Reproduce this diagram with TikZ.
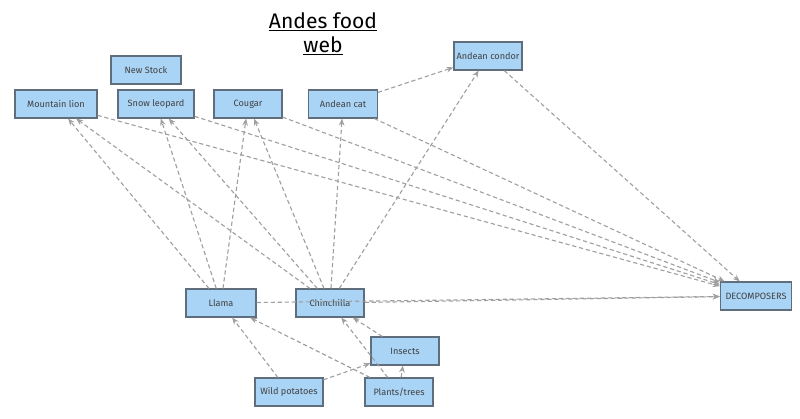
\documentclass[tikz,border=0pt]{standalone}
\usepackage{fontspec}
\setmainfont{Fira Sans}
\usetikzlibrary{arrows.meta,positioning}
\definecolor{boxfill}{RGB}{170,212,246}
\definecolor{boxline}{RGB}{95,110,125}
\definecolor{linkgray}{RGB}{160,160,160}
\tikzset{
  animal/.style={draw=boxline, thick, fill=boxfill, font=\fontsize{6.5}{8}\selectfont\color{black!75},
    minimum height=0.7cm, inner sep=1pt},
  eats/.style={->, >={Stealth[length=5pt,width=4pt]}, linkgray, thick, dash pattern=on 3pt off 2pt}
}
\begin{document}
\begin{tikzpicture}[x=0.025cm, y=-0.025cm]
\useasboundingbox (0,0) rectangle (800,419);

\node[font=\fontsize{15}{18}\selectfont, align=center] (title) at (323,34) {\underline{Andes food}\\[-1pt]\underline{web}};

\node[animal, minimum width=2.05cm] (ML) at (56,104) {Mountain lion};
\node[animal, minimum width=1.75cm] (NS) at (146,70) {New Stock};
\node[animal, minimum width=1.9cm] (SL) at (156,104) {Snow leopard};
\node[animal, minimum width=1.7cm] (CG) at (248,104) {Cougar};
\node[animal, minimum width=1.72cm] (AC) at (343,104) {Andean cat};
\node[animal, minimum width=1.7cm] (CD) at (488,56) {Andean condor};
\node[animal, minimum width=1.75cm] (LL) at (221,303) {Llama};
\node[animal, minimum width=1.7cm] (CH) at (330,303) {Chinchilla};
\node[animal, minimum width=1.78cm, inner sep=0pt] (DC) at (756,296) {DECOMPOSERS};
\node[animal, minimum width=1.7cm] (IN) at (405,351) {Insects};
\node[animal, minimum width=1.7cm] (WP) at (289,392) {Wild potatoes};
\node[animal, minimum width=1.7cm] (PT) at (399,392) {Plants/trees};

% who eats whom
\foreach \prey/\pred in {LL/ML, LL/SL, LL/CG, LL/DC,
    CH/ML, CH/SL, CH/CG, CH/AC, CH/CD, CH/DC,
    ML/DC, SL/DC, CG/DC, AC/DC, CD/DC, AC/CD,
    WP/LL, WP/IN, PT/LL, PT/CH, PT/IN, IN/CH}
  \draw[eats] (\prey) -- (\pred);

\end{tikzpicture}
\end{document}
